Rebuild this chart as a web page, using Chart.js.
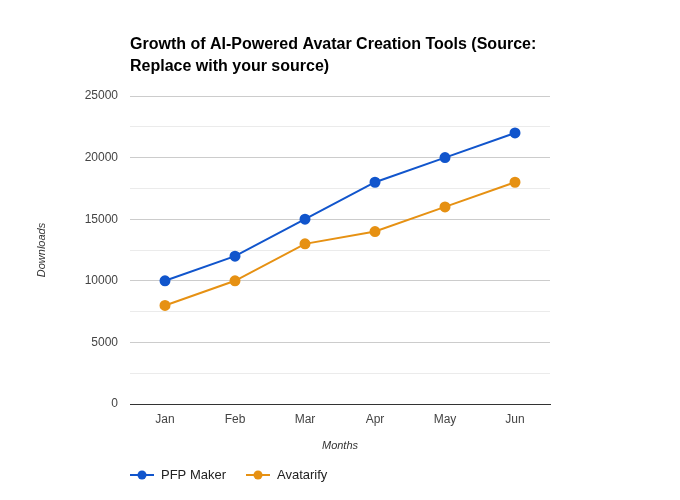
<!DOCTYPE html>
<html lang="en">
<head>
<meta charset="UTF-8">
<title>Growth of AI-Powered Avatar Creation Tools</title>
<script src="https://cdn.jsdelivr.net/npm/chart.js@4.4.0/dist/chart.umd.min.js"></script>
<style>
    html, body { margin: 0; padding: 0; background: #fff; }
    #wrap { width: 680px; height: 500px; }
</style>
</head>
<body>
<div id="wrap"><canvas id="chart" width="680" height="500"></canvas></div>
<script>
    const months = ['Jan', 'Feb', 'Mar', 'Apr', 'May', 'Jun'];
    const pfpMaker = [10000, 12000, 15000, 18000, 20000, 22000];
    const avatarify = [8000, 10000, 13000, 14000, 16000, 18000];
    const titleLines = ['Growth of AI-Powered Avatar Creation Tools (Source:', 'Replace with your source)'];

    const FONT = '"Liberation Sans", Arial, sans-serif';

    // title and legend are drawn by hand so they line up with the plot's left edge
    const decorations = {
        id: 'decorations',
        afterDraw(chart) {
            const ctx = chart.ctx;
            const left = chart.chartArea.left;
            ctx.save();
            ctx.fillStyle = '#000';
            ctx.font = 'bold 16px ' + FONT;
            ctx.textBaseline = 'middle';
            ctx.textAlign = 'left';
            titleLines.forEach((t, i) => ctx.fillText(t, left, 45 + i * 22));

            ctx.font = '13px ' + FONT;
            ctx.fillStyle = '#222';
            let x = left;
            const y = 475;
            chart.data.datasets.forEach(ds => {
                ctx.strokeStyle = ds.borderColor;
                ctx.lineWidth = 2;
                ctx.beginPath();
                ctx.moveTo(x, y);
                ctx.lineTo(x + 24, y);
                ctx.stroke();
                ctx.fillStyle = ds.borderColor;
                ctx.beginPath();
                ctx.arc(x + 12, y, 4.5, 0, Math.PI * 2);
                ctx.fill();
                ctx.fillStyle = '#222';
                ctx.fillText(ds.label, x + 31, y);
                x += 31 + ctx.measureText(ds.label).width + 20;
            });
            ctx.restore();
        }
    };

    new Chart(document.getElementById('chart'), {
        type: 'line',
        data: {
            labels: months,
            datasets: [
                {
                    label: 'PFP Maker',
                    data: pfpMaker,
                    borderColor: '#1155cc',
                    backgroundColor: '#1155cc',
                    borderWidth: 2,
                    pointRadius: 4.5,
                    pointHoverRadius: 5,
                    tension: 0
                },
                {
                    label: 'Avatarify',
                    data: avatarify,
                    borderColor: '#e69113',
                    backgroundColor: '#e69113',
                    borderWidth: 2,
                    pointRadius: 4.5,
                    pointHoverRadius: 5,
                    tension: 0
                }
            ]
        },
        options: {
            responsive: false,
            animation: false,
            layout: { padding: { top: 96, right: 130, bottom: 40, left: 0 } },
            plugins: {
                legend: { display: false },
                title: { display: false },
                tooltip: { enabled: false }
            },
            scales: {
                x: {
                    offset: true,
                    grid: { display: false, drawTicks: false },
                    border: { display: true, color: '#333', width: 1 },
                    ticks: { color: '#444', font: { family: FONT, size: 12 }, padding: 8 },
                    title: {
                        display: true,
                        text: 'Months',
                        color: '#333',
                        font: { family: FONT, size: 11, style: 'italic' },
                        padding: { top: 0, bottom: 7 }
                    },
                    afterFit(scale) { scale.height = 56; }
                },
                y: {
                    min: 0,
                    max: 25000,
                    border: { display: false },
                    grid: {
                        drawTicks: false,
                        color: c => c.tick.value === 0 ? 'rgba(0,0,0,0)' : (c.tick.value % 5000 === 0 ? '#cccccc' : '#ebebeb')
                    },
                    ticks: {
                        stepSize: 2500,
                        color: '#444',
                        padding: 12,
                        font: { family: FONT, size: 12 },
                        callback: v => v % 5000 === 0 ? String(v) : ''
                    },
                    title: {
                        display: true,
                        text: 'Downloads',
                        color: '#333',
                        font: { family: FONT, size: 11, style: 'italic' },
                        padding: { top: 35, bottom: 0 }
                    },
                    afterFit(scale) { scale.width = 130; }
                }
            }
        },
        plugins: [decorations]
    });
</script>
</body>
</html>
